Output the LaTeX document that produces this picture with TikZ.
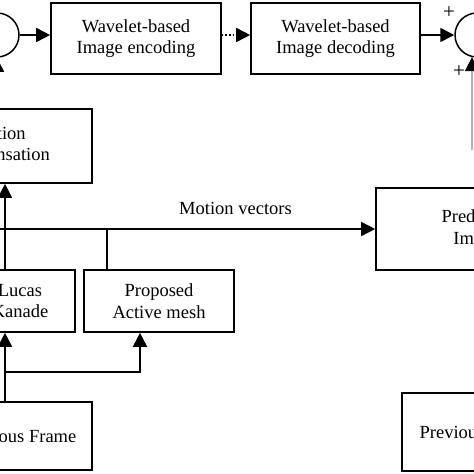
\documentclass[tikz,border=0pt]{standalone}
\usepackage{fontspec}
\setmainfont{Liberation Serif}
\usetikzlibrary{arrows.meta}
\tikzset{
  blk/.style={draw, line width=1.6pt, inner sep=0pt, align=center,
    font=\fontsize{18.5}{21.5}\selectfont},
  sumc/.style={draw, circle, line width=1.5pt, minimum size=44pt, inner sep=0pt},
  ln/.style={line width=1.6pt},
  arr/.style={ln, -{Triangle[length=14pt,width=14pt,color=black]}},
  lab/.style={inner sep=0pt, font=\fontsize{18.5}{21.5}\selectfont},
  plus/.style={inner sep=0pt, font=\fontsize{21}{21}\selectfont}
}
\begin{document}
\begin{tikzpicture}[x=1pt,y=-1pt]
\useasboundingbox (0,0) rectangle (474,474);
\fill[white] (0,0) rectangle (474,474);
\clip (0,0) rectangle (474,474);
% nodes
\node[sumc] (circL) at (-3,35) {};
\node[blk, minimum width=170pt, minimum height=71pt] (enc) at (136,38.5) {Wavelet-based\\Image encoding};
\node[blk, minimum width=169pt, minimum height=71pt] (dec) at (335.5,38.5) {Wavelet-based\\Image decoding};
\node[sumc] (circR) at (477,35) {};
\node[plus] (p1) at (449,13) {+};
\node[plus] (p2) at (459,72) {+};
\node[blk, minimum width=187pt, minimum height=74pt] (mc) at (-1.5,146) {Motion\\compensation};
\node[blk, minimum width=201pt, minimum height=82pt] (pi) at (476.5,229) {Predicted\\Image};
\node[lab] (mvlab) at (235.5,208) {Motion vectors};
\node[blk, minimum width=110pt, minimum height=62pt] (lk) at (20,301) {Lucas\\Kanade};
\node[blk, minimum width=150pt, minimum height=62pt] (pam) at (159,301) {Proposed\\Active mesh};
\node[blk, minimum width=148pt, minimum height=68pt] (pf) at (18,436) {Previous Frame};
\node[blk, minimum width=152pt, minimum height=78pt] (pf2) at (478,432) {Previous Frame};
% helper coordinates
\coordinate (lb) at (-3,100);
\coordinate (rb) at (472,150);
\coordinate (mvl) at (-20,229);
\coordinate (ax) at (5,0);
\coordinate (br) at (5,372);
% connectors
\draw[arr] (circL.east) -- (circL.east -| enc.west);
\draw[arr, dash pattern=on 1.6pt off 2pt] (enc.east |- circL.east) -- (dec.west |- circL.east);
\draw[arr] (dec.east |- circR.west) -- (circR.west);
\draw[arr, draw=black!30] (rb) -- (rb |- circR.-103);
\draw[arr] (lb) -- (circL.south);
\draw[arr] (mvl) -- (pi.west);
\draw[arr] (lk.north -| ax) -- (mc.south -| ax);
\draw[ln] ([xshift=-52pt]pam.north) -- ([xshift=-52pt]pam.north |- pi.west);
\draw[arr] (pf.north -| ax) -- (lk.south -| ax);
\draw[arr] (br) -| ([xshift=-19pt]pam.south);
\end{tikzpicture}
\end{document}
